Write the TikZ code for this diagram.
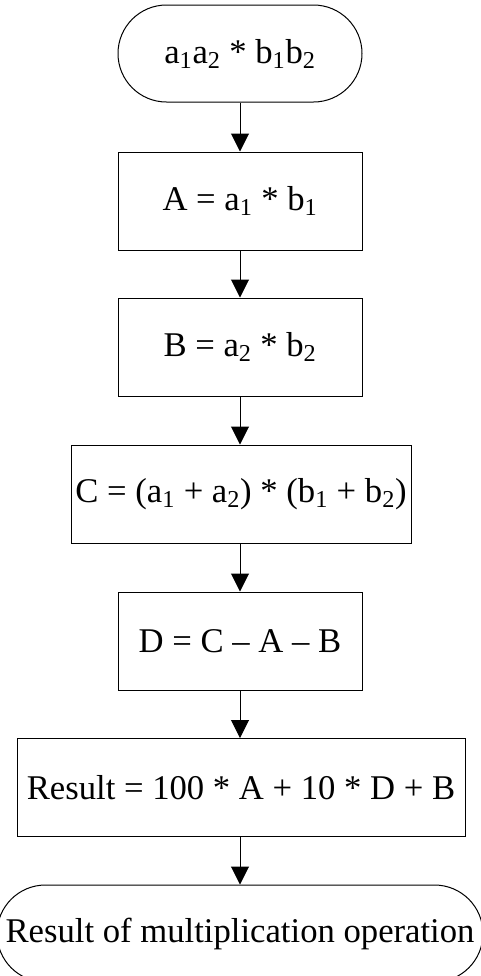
\documentclass[tikz,border=0pt]{standalone}
\usepackage{fontspec}
\setmainfont{Liberation Serif}
\usetikzlibrary{shapes.misc,arrows.meta}
\begin{document}
\begin{tikzpicture}[x=0.75pt,y=-0.75pt,
  every node/.style={font=\fontsize{26pt}{31pt}\selectfont, line width=0.75pt, inner sep=0pt, align=center},
  procbox/.style={draw, rectangle, minimum height=73.5pt},
  termbox/.style={draw, rounded rectangle, rounded rectangle arc length=180, minimum height=72.75pt},
  flow/.style={line width=0.75pt, -{Triangle[width=13.5pt,length=13.5pt]}}]
\useasboundingbox (0,0) rectangle (480,976);
\node[termbox, minimum width=183pt] (start) at (240,53.5) {a\textsubscript{1}a\textsubscript{2} * b\textsubscript{1}b\textsubscript{2}};
\node[procbox, minimum width=183pt] (A) at (240,201) {A = a\textsubscript{1} * b\textsubscript{1}};
\node[procbox, minimum width=183pt] (B) at (240,347) {B = a\textsubscript{2} * b\textsubscript{2}};
\node[procbox, minimum width=255pt] (C) at (241,494) {C = (a\textsubscript{1} + a\textsubscript{2}) * (b\textsubscript{1} + b\textsubscript{2})};
\node[procbox, minimum width=183pt] (D) at (240,641) {D = C -- A -- B};
\node[procbox, minimum width=336pt] (R) at (241,787.5) {Result = 100 * A + 10 * D + B};
\node[termbox, minimum width=364.5pt] (end) at (240,933.5) {Result of multiplication operation};
\draw[flow] (start.south) -- (start.south |- A.north);
\draw[flow] (A.south) -- (A.south |- B.north);
\draw[flow] (B.south) -- (B.south |- C.north);
\draw[flow] (B.south |- C.south) -- (B.south |- D.north);
\draw[flow] (D.south) -- (D.south |- R.north);
\draw[flow] (D.south |- R.south) -- (D.south |- end.north);
\end{tikzpicture}
\end{document}
